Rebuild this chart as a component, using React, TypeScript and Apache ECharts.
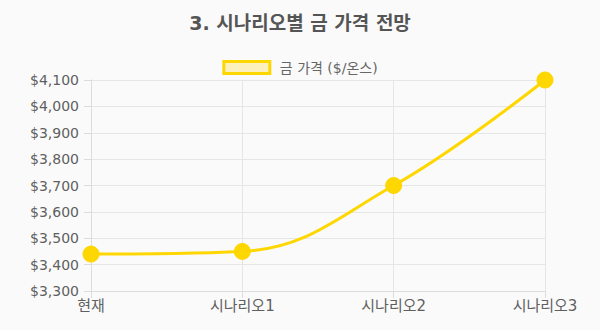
import React, { useEffect, useRef } from "react";
import * as echarts from "echarts";

const categories = ["현재", "시나리오1", "시나리오2", "시나리오3"];
const goldPrices = [3440, 3450, 3700, 4100];
const seriesName = "금 가격 ($/온스)";
const titleText = "3. 시나리오별 금 가격 전망";

const FONT = "'DejaVu Sans', 'Noto Sans CJK KR', sans-serif";

export default function App() {
  const ref = useRef<HTMLDivElement>(null);
  useEffect(() => {
    if (!ref.current) return;
    const chart = echarts.init(ref.current, null, { renderer: "svg" });
    chart.setOption({
      animation: false,
      backgroundColor: "#fafafa",
      textStyle: { fontFamily: FONT },
      title: {
        text: titleText,
        left: "center",
        top: 8,
        textStyle: { fontSize: 19, fontWeight: "bold", color: "#555", fontFamily: FONT },
      },
      legend: {
        top: 55,
        left: "center",
        icon: "rect",
        itemWidth: 46,
        itemHeight: 12,
        itemGap: 10,
        textStyle: { fontSize: 14, color: "#666", fontFamily: FONT, padding: [0, 0, 0, 5] },
        itemStyle: { color: "#fcf1bd", borderColor: "#FFD700", borderWidth: 3 },
        data: [seriesName],
      },
      grid: { left: 91, right: 55, top: 80, bottom: 39, containLabel: false },
      xAxis: {
        type: "category",
        data: categories,
        boundaryGap: false,
        axisLine: { show: true, lineStyle: { color: "#dcdcdc" } },
        axisTick: { show: true, length: 7, lineStyle: { color: "#dcdcdc" }, alignWithLabel: true },
        axisLabel: { color: "#5f5f5f", fontSize: 15, margin: 7, fontFamily: FONT },
        splitLine: { show: true, lineStyle: { color: "#e6e6e6" } },
      },
      yAxis: {
        type: "value",
        min: 3300,
        max: 4100,
        interval: 100,
        axisLine: { show: true, lineStyle: { color: "#dcdcdc" } },
        axisTick: { show: true, length: 7, lineStyle: { color: "#dcdcdc" } },
        axisLabel: {
          color: "#5f5f5f",
          fontSize: 14,
          margin: 12,
          fontFamily: FONT,
          formatter: (v: number) => "$" + v.toLocaleString("en-US"),
        },
        splitLine: { show: true, lineStyle: { color: "#e6e6e6" } },
      },
      series: [
        {
          name: seriesName,
          type: "line",
          data: goldPrices,
          smooth: 0.4,
          symbol: "circle",
          symbolSize: 16,
          lineStyle: { color: "#FFD700", width: 3 },
          itemStyle: { color: "#FFD700", borderColor: "#FFD700" },
        },
      ],
    });
    return () => chart.dispose();
  }, []);
  return (
    <div
      ref={ref}
      style={{ position: "fixed", left: 0, top: 0, width: 600, height: 330 }}
    />
  );
}
